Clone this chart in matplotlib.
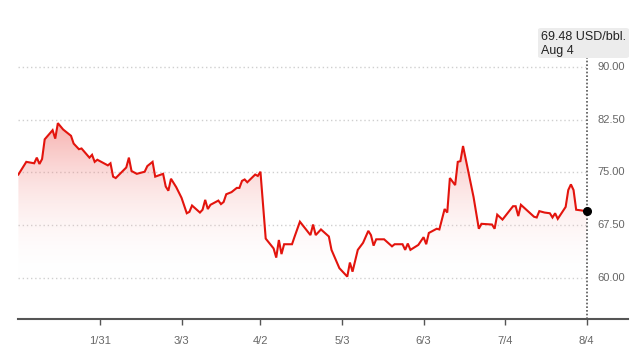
import numpy as np
import matplotlib
matplotlib.use("Agg")
import matplotlib.pyplot as plt
from matplotlib.patches import FancyBboxPatch, Polygon
from matplotlib.colors import LinearSegmentedColormap

plt.rcParams['font.family'] = ['Liberation Sans', 'DejaVu Sans']

# days since Dec 31 and oil price (USD/bbl)
days = [0, 3, 6, 7, 8, 9, 10, 13, 14, 15, 17, 20, 21, 23, 24, 27, 28, 29, 30,
        34, 35, 36, 37, 41, 42, 43, 45, 48, 49, 51, 52, 55, 56, 57, 58, 60, 62,
        64, 65, 66, 69, 70, 71, 72, 73, 76, 77, 78, 79, 81, 83, 84, 85, 86, 87,
        90, 91, 92, 94, 97, 98, 99, 100, 101, 104, 105, 107, 111, 112, 113, 115,
        118, 119, 122, 125, 126, 127, 129, 131, 133, 134, 135, 136, 139, 142,
        143, 146, 147, 148, 149, 152, 154, 155, 156, 159, 160, 162, 163, 164,
        166, 167, 168, 169, 173, 175, 176, 180, 181, 182, 184, 188, 189, 190,
        191, 196, 197, 198, 200, 202, 203, 204, 205, 208, 209, 210, 211, 212,
        214, 216]
prices = [74.7, 76.5, 76.3, 77.1, 76.2, 76.9, 79.7, 81.0, 79.8, 82.0, 81.1,
          80.2, 79.1, 78.3, 78.4, 77.1, 77.5, 76.5, 76.8, 76.0, 76.3, 74.4,
          74.2, 75.7, 77.1, 75.2, 74.8, 75.1, 75.9, 76.5, 74.4, 74.8, 73.0,
          72.4, 74.1, 72.9, 71.4, 69.2, 69.4, 70.3, 69.3, 69.7, 71.1, 69.8,
          70.4, 71.0, 70.5, 70.8, 71.9, 72.2, 72.8, 72.8, 73.8, 74.0, 73.6,
          74.7, 74.5, 75.1, 65.6, 64.2, 62.9, 65.4, 63.4, 64.8, 64.8, 65.9,
          68.0, 66.1, 67.6, 66.1, 66.9, 65.9, 64.0, 61.4, 60.2, 62.2, 60.9,
          64.0, 65.0, 66.7, 66.1, 64.6, 65.5, 65.5, 64.5, 64.8, 64.8, 64.0,
          64.9, 64.0, 64.7, 65.8, 64.8, 66.4, 67.0, 66.9, 69.8, 69.3, 74.2,
          73.2, 76.5, 76.6, 78.75, 71.5, 67.0, 67.7, 67.6, 67.0, 69.0, 68.3,
          70.2, 70.2, 68.8, 70.4, 68.7, 68.6, 69.5, 69.3, 69.2, 68.6, 69.2,
          68.4, 70.1, 72.5, 73.3, 72.5, 69.7, 69.6, 69.48]

tick_days = [31, 62, 92, 123, 154, 185, 216]
tick_labels = ['1/31', '3/3', '4/2', '5/3', '6/3', '7/4', '8/4']
grid_values = [60, 67.5, 75, 82.5, 90]
last_label = '69.48 USD/bbl.'
last_date = 'Aug 4'

W, H = 640, 352
fig = plt.figure(figsize=(6.4, 3.52), dpi=100)
ax = fig.add_axes([18 / W, (H - 319) / H, (628 - 18) / W, 319 / H])
xmin, xmax = -0.15, 231.7
ymin, ymax = 54.18, 99.49
ax.set_xlim(xmin, xmax)
ax.set_ylim(ymin, ymax)

red = '#e3140d'

# gradient fill under the line
cmap = LinearSegmentedColormap.from_list(
    'fade', [(1, 1, 1, 0), (0.93, 0.33, 0.31, 0.45)])
grad = np.linspace(0, 1, 256).reshape(-1, 1)
grad = np.clip((grad * (ymax - ymin) + ymin - 59.5) / (82 - 59.5), 0, 1)
img = ax.imshow(grad, extent=[xmin, xmax, ymin, ymax], origin='lower',
                aspect='auto', cmap=cmap, vmin=0, vmax=1, zorder=1)
poly = Polygon(list(zip(days, prices)) + [(days[-1], ymin), (days[0], ymin)],
               closed=True, transform=ax.transData, facecolor='none',
               edgecolor='none')
ax.add_patch(poly)
img.set_clip_path(poly)

ax.plot(days, prices, color=red, lw=1.5, zorder=3, solid_joinstyle='miter')

# horizontal dotted grid
for v in grid_values:
    ax.plot([xmin, tick_days[-1]], [v, v], color='#cfcfcf', lw=1,
            ls=(0, (1, 2)), zorder=0)
    ax.text((611 - 18) / (628 - 18), v, f'{v:.2f}', transform=ax.get_yaxis_transform(),
            ha='center', va='center', fontsize=8, color='#666666')

# vertical marker line and end dot
ax.plot([tick_days[-1], tick_days[-1]], [ymin, 91.8], color='#555555', lw=1.2,
        ls=(0, (1, 1.2)), zorder=2, clip_on=False)
ax.plot(days[-1], prices[-1], 'o', color='black', ms=5.5, zorder=4)

for s in ['top', 'left', 'right']:
    ax.spines[s].set_visible(False)
ax.spines['bottom'].set_color('#555555')
ax.spines['bottom'].set_linewidth(1.5)
ax.set_yticks([])
ax.set_xticks(tick_days)
ax.set_xticklabels(tick_labels)
ax.tick_params(axis='x', length=4, width=1, color='#555555', labelsize=8,
               labelcolor='#666666', pad=8)

# tooltip box
box = FancyBboxPatch((538 / W, 1 - 58 / H), 91 / W, 30 / H,
                     boxstyle='round,pad=0,rounding_size=0.005',
                     transform=fig.transFigure, facecolor='#ececec',
                     edgecolor='none', zorder=5)
fig.patches.append(box)
fig.text(541 / W, 1 - 37 / H, last_label, fontsize=9, color='#222222',
         va='center', ha='left', zorder=6)
fig.text(541 / W, 1 - 51 / H, last_date, fontsize=9, color='#222222',
         va='center', ha='left', zorder=6)

fig.savefig('out.png', dpi=100)
